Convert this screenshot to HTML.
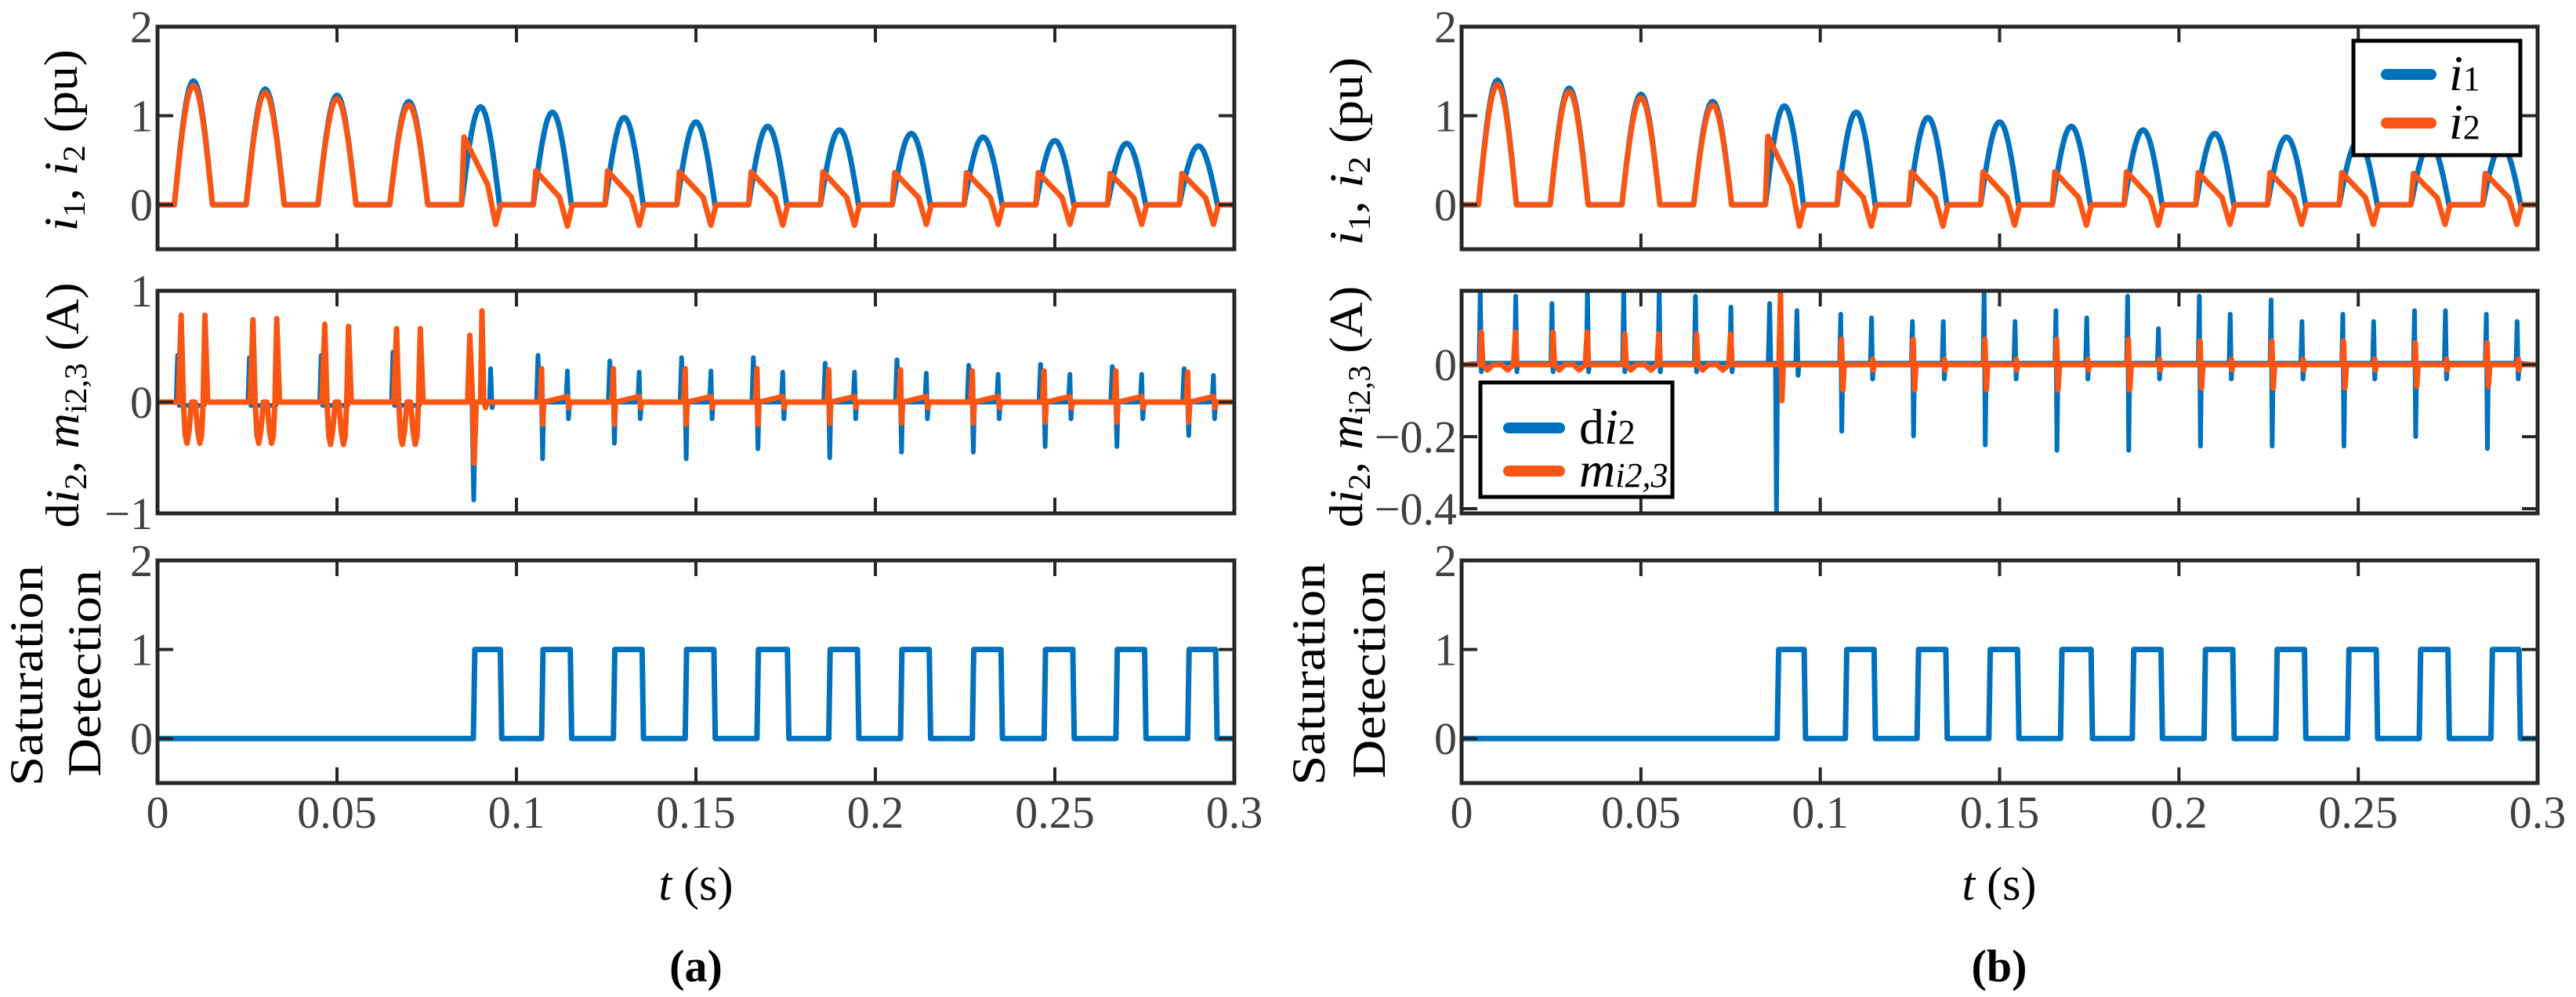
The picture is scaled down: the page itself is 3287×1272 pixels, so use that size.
<!DOCTYPE html>
<html><head><meta charset="utf-8"><style>
html,body{margin:0;padding:0;background:#fff;}
svg{display:block;}
text{font-family:"Liberation Serif",serif;}
</style></head>
<body>
<svg id="fig" width="3287" height="1272" viewBox="0 0 3287 1272" xmlns="http://www.w3.org/2000/svg"></svg>
<script>
// ---------- data ----------
const cycleT0 = [0.01,0.03,0.05,0.07,0.09,0.11,0.13,0.15,0.17,0.19,0.21,0.23,0.25,0.27,0.29];
// (a) top panel
const i1PeakA = [1.39,1.30,1.23,1.16,1.10,1.04,0.98,0.93,0.88,0.84,0.80,0.76,0.72,0.69,0.66];
const i2PeakA = [1.34,1.26,1.19,1.12,0.76,0.38,0.38,0.37,0.37,0.37,0.36,0.36,0.36,0.35,0.35];
const i2MinA  = [0,0,0,0,-0.22,-0.24,-0.23,-0.23,-0.23,-0.23,-0.22,-0.22,-0.22,-0.22,-0.22];
// (b) top panel
const i1PeakB = [1.40,1.31,1.24,1.16,1.11,1.04,0.98,0.93,0.88,0.84,0.80,0.76,0.72,0.69,0.66];
const i2PeakB = [1.35,1.27,1.20,1.12,0.77,0.37,0.37,0.37,0.37,0.37,0.36,0.36,0.36,0.35,0.35];
const i2MinB  = [0,0,0,0,-0.24,-0.24,-0.24,-0.23,-0.23,-0.23,-0.22,-0.22,-0.22,-0.22,-0.22];
// (a) middle panel
const dPosA = [0.42,0.40,0.42,0.45,0.35,0.42,0.37,0.40,0.40,0.35,0.38,0.33,0.34,0.32,0.30];
const dNegA = [-0.03,-0.03,-0.03,-0.03,-0.88,-0.51,-0.37,-0.51,-0.42,-0.50,-0.45,-0.45,-0.40,-0.40,-0.30];
const dEndA = [0.30,0.30,0.30,0.30,0.30,0.28,0.27,0.28,0.27,0.27,0.26,0.25,0.25,0.25,0.24];
const mPosA = [0.78,0.74,0.70,0.66,0.60,0.30,0.30,0.30,0.30,0.29,0.29,0.28,0.28,0.28,0.27];
const mEndA = [0.78,0.75,0.68,0.66,0.82,0.05,0.05,0.05,0.05,0.05,0.05,0.05,0.05,0.05,0.05];
const mNegA = [-0.37,-0.37,-0.38,-0.38,-0.55,-0.20,-0.20,-0.20,-0.20,-0.19,-0.19,-0.19,-0.18,-0.18,-0.18];
// (b) middle panel
const dPosB = [0.21,0.17,0.21,0.19,0.17,0.14,0.12,0.21,0.15,0.19,0.19,0.18,0.14,0.15,0.14];
const dNegB = [-0.02,-0.02,-0.02,-0.02,-0.41,-0.185,-0.198,-0.223,-0.238,-0.238,-0.226,-0.226,-0.226,-0.20,-0.233];
const dEndB = [0.19,0.21,0.21,0.16,0.15,0.13,0.12,0.12,0.13,0.10,0.14,0.12,0.12,0.15,0.12];
const mPosB = [0.09,0.09,0.085,0.085,0.20,0.07,0.07,0.07,0.07,0.07,0.065,0.065,0.065,0.06,0.06];
const mNegB = [-0.015,-0.015,-0.015,-0.015,-0.10,-0.07,-0.07,-0.07,-0.07,-0.07,-0.065,-0.065,-0.065,-0.06,-0.06];
// saturation detection
const satOn  = [0.088,0.107,0.127,0.147,0.167,0.187,0.207,0.227,0.247,0.267,0.287];
const satOff = [0.0955,0.115,0.135,0.155,0.1755,0.195,0.215,0.235,0.255,0.275,0.2948];
const xTicks = [0,0.05,0.1,0.15,0.2,0.25,0.3];
const xTickLabels = ["0","0.05","0.1","0.15","0.2","0.25","0.3"];

// ---------- layout ----------
const NS="http://www.w3.org/2000/svg";
const svg=document.getElementById('fig');
const BLUE="#0072BD", ORANGE="#FA5512";
const cols=[{x0:201,x1:1575},{x0:1865,x1:3238}];
const rows=[{y0:34,y1:318},{y0:371,y1:655},{y0:715,y1:999}];
function el(tag,attrs,parent){const e=document.createElementNS(NS,tag);for(const k in attrs)e.setAttribute(k,attrs[k]);(parent||svg).appendChild(e);return e;}
let clipId=0;
function makeAxes(ci,ri,ymin,ymax,yTicks,yLabels,showX,name){
  const c=cols[ci],r=rows[ri];
  const g=el('g',{});
  
  
  const sx=t=>c.x0+(t-0)/(0.3)*(c.x1-c.x0);
  const sy=v=>r.y1-(v-ymin)/(ymax-ymin)*(r.y1-r.y0);
  const id='clip'+(clipId++);
  const cp=el('clipPath',{id:id},g);
  el('rect',{x:c.x0,y:r.y0,width:c.x1-c.x0,height:r.y1-r.y0},cp);
  const plot=el('g',{'clip-path':'url(#'+id+')'},g);
  
  
  const ax={g,plot,sx,sy,c,r};
  ax.finish=function(){
    const fr=el('rect',{x:c.x0,y:r.y0,width:c.x1-c.x0,height:r.y1-r.y0,fill:'none',stroke:'#262626','stroke-width':5},g);
    
    
    xTicks.forEach((t,i)=>{
      const x=sx(t);
      el('line',{x1:x,x2:x,y1:r.y1,y2:r.y1-20,stroke:'#262626','stroke-width':4},g);
      el('line',{x1:x,x2:x,y1:r.y0,y2:r.y0+20,stroke:'#262626','stroke-width':4},g);
      if(showX){
        const tx=el('text',{x:x,y:1056,'font-size':58,fill:'#404040','text-anchor':'middle'},g);
        tx.textContent=xTickLabels[i];
        
        
      }
    });
    yTicks.forEach((v,i)=>{
      const y=sy(v);
      el('line',{x1:c.x0,x2:c.x0+20,y1:y,y2:y,stroke:'#262626','stroke-width':4},g);
      el('line',{x1:c.x1,x2:c.x1-20,y1:y,y2:y,stroke:'#262626','stroke-width':4},g);
      const ty=el('text',{x:c.x0-6,y:y+20,'font-size':58,fill:'#404040','text-anchor':'end'},g);
      ty.textContent=yLabels[i];
      
      
    });
  };
  return ax;
}
function line(ax,pts,color,w,name){
  const d=pts.map((p,i)=>(i?'L':'M')+ax.sx(p[0]).toFixed(1)+' '+ax.sy(p[1]).toFixed(1)).join('');
  const p=el('path',{d:d,fill:'none',stroke:color,'stroke-width':w,'stroke-linejoin':'round'},ax.plot);
  
  
}
const HW=0.0053;
function sinePulse(pts,t0,A){const s=t0-HW;for(let j=0;j<=24;j++){const t=s+j/24*2*HW;pts.push([t,A*Math.sin(Math.PI*j/24)]);}}
function i1Series(peaks){const pts=[[0,0]];cycleT0.forEach((t0,k)=>sinePulse(pts,t0,peaks[k]));pts.push([0.3,0]);return pts;}
function i2Series(peaks,mins){const pts=[[0,0]];cycleT0.forEach((t0,k)=>{
  if(k<4)sinePulse(pts,t0,peaks[k]);
  else{const s=t0-HW;pts.push([s,0],[s+0.0007,peaks[k]],[t0+0.002,peaks[k]*0.35+mins[k]*0.2],[t0+0.0042,mins[k]],[t0+0.0056,0]);}
});pts.push([0.3,0]);return pts;}
function keySeries(fn){const pts=[[0,0]];cycleT0.forEach((t0,k)=>{fn(k).forEach(p=>pts.push([t0+p[0],p[1]]));});pts.push([0.3,0]);return pts;}
function satSeries(){const pts=[[0,0]];satOn.forEach((a,i)=>{pts.push([a,0],[a+0.0004,1],[satOff[i],1],[satOff[i]+0.0004,0]);});pts.push([0.3,0]);return pts;}
function yLabel(x,yc,len,parts,name){
  const t=el('text',{transform:`translate(${x},${yc}) rotate(-90)`,'text-anchor':'middle','font-size':60,fill:'#000',textLength:len,lengthAdjust:'spacingAndGlyphs'});
  
  
  parts.forEach(p=>{const s=el('tspan',{},t);if(p.i)s.setAttribute('font-style','italic');if(p.sub){s.setAttribute('font-size',40);s.setAttribute('dy',p.dy||0);}else if(p.dy)s.setAttribute('dy',p.dy);s.textContent=p.t;});
}
const lab1=[{t:'i',i:1},{t:'1',sub:1,dy:10},{t:', ',dy:-10},{t:'i',i:1},{t:'2',sub:1,dy:10},{t:' (pu)',dy:-10}];
const lab2=[{t:'d'},{t:'i',i:1},{t:'2',sub:1,dy:10},{t:', ',dy:-10},{t:'m',i:1},{t:'i2,3',sub:1,dy:10},{t:' (A)',dy:-10}];

// ---------- column (a) ----------
const a1=makeAxes(0,0,-0.5,2,[0,1,2],['0','1','2'],false,'panel-a-currents');
line(a1,i1Series(i1PeakA),BLUE,7,'series-i1-a');
line(a1,i2Series(i2PeakA,i2MinA),ORANGE,7,'series-i2-a');
a1.finish();
const a2=makeAxes(0,1,-1,1,[-1,0,1],['\u22121','0','1'],false,'panel-a-detector');
line(a2,keySeries(k=>k<4?[[-0.0048,0],[-0.0044,dPosA[k]],[-0.004,dNegA[k]],[0.0030,dNegA[k]],[0.0034,dEndA[k]],[0.0038,0]]:
  k===4?[[-0.0036,0],[-0.003,dPosA[k]],[-0.0024,0],[-0.0019,dNegA[k]],[-0.0014,0],[0.0025,0],[0.0028,dEndA[k]],[0.0032,-0.05],[0.0036,0]]:
  [[-0.0044,0],[-0.004,dPosA[k]],[-0.0035,0],[-0.003,0],[-0.0027,dNegA[k]],[-0.0024,0],[0.0038,0],[0.0042,dEndA[k]],[0.0045,-0.15],[0.0048,0]]),BLUE,6,'series-di2-a');
line(a2,keySeries(k=>k<4?[[-0.0042,0],[-0.0034,mPosA[k]],[-0.0028,0],[-0.0023,mNegA[k]*0.8],[-0.0018,mNegA[k]],[-0.0012,mNegA[k]*0.7],[-0.0005,0],[0.0005,0],[0.0012,mNegA[k]*0.7],[0.0018,mNegA[k]],[0.0023,mNegA[k]*0.8],[0.0027,0],[0.0032,mEndA[k]],[0.004,0]]:
  k===4?[[-0.0036,0],[-0.003,mPosA[k]],[-0.0022,0],[-0.0018,mNegA[k]],[-0.0012,0],[0,0],[0.0004,mEndA[k]],[0.0009,0],[0.0014,-0.05],[0.0018,0]]:
  [[-0.0034,0],[-0.003,mPosA[k]],[-0.0027,mNegA[k]],[-0.0024,0],[0.0042,mEndA[k]],[0.0046,-mEndA[k]],[0.005,0]]),ORANGE,7,'series-mi23-a');
a2.finish();
const a3=makeAxes(0,2,-0.5,2,[0,1,2],['0','1','2'],true,'panel-a-saturation');
line(a3,satSeries(),BLUE,7,'series-saturation-a');
a3.finish();

// ---------- column (b) ----------
const b1=makeAxes(1,0,-0.5,2,[0,1,2],['0','1','2'],false,'panel-b-currents');
line(b1,i1Series(i1PeakB),BLUE,7,'series-i1-b');
line(b1,i2Series(i2PeakB,i2MinB),ORANGE,7,'series-i2-b');
b1.finish();
const b2=makeAxes(1,1,-0.413,0.205,[-0.4,-0.2,0],['\u22120.4','\u22120.2','0'],false,'panel-b-detector');
line(b2,keySeries(k=>k<4?[[-0.0051,0.004],[-0.0048,dPosB[k]],[-0.0045,dNegB[k]],[-0.0041,0.004],[0.0048,0.004],[0.0051,dEndB[k]],[0.0054,-0.02],[0.0057,0.004]]:
  k===4?[[-0.0045,0.004],[-0.0041,dPosB[k]],[-0.0038,0.004],[-0.0025,0.004],[-0.0022,dNegB[k]],[-0.0019,0.004],[0.0032,0.004],[0.0035,dEndB[k]],[0.0038,-0.03],[0.0041,0.004]]:
  [[-0.0046,0.004],[-0.0043,dPosB[k]],[-0.0040,dNegB[k]],[-0.0037,0.004],[0.0040,0.004],[0.0043,dEndB[k]],[0.0046,-0.04],[0.0049,0.004]]),BLUE,6,'series-di2-b');
line(b2,keySeries(k=>k<4?[[-0.0048,0],[-0.0045,mPosB[k]],[-0.0041,0],[-0.0028,mNegB[k]],[-0.0012,0],[0.0012,0],[0.0028,mNegB[k]],[0.0045,0],[0.0050,mPosB[k]],[0.0054,0]]:
  k===4?[[-0.0015,0],[-0.0011,mPosB[k]],[-0.0007,mNegB[k]],[-0.0003,0]]:
  [[-0.0044,0],[-0.0041,mPosB[k]],[-0.0037,mNegB[k]],[-0.0033,0],[0.0044,0],[0.0046,0.015],[0.0048,-0.015],[0.005,0]]),ORANGE,7,'series-mi23-b');
b2.finish();
const b3=makeAxes(1,2,-0.5,2,[0,1,2],['0','1','2'],true,'panel-b-saturation');
line(b3,satSeries(),BLUE,7,'series-saturation-b');
b3.finish();

// ---------- axis labels ----------
yLabel(98,179,232,lab1,'y-axis-title-a-currents');
yLabel(100,517,313,lab2,'y-axis-title-a-detector');
yLabel(1738,193,240,lab1,'y-axis-title-b-currents');
yLabel(1738,519,308,lab2,'y-axis-title-b-detector');
[[54,862,282,'Saturation','y-axis-title-a-saturation-line1'],[128,859,264,'Detection','y-axis-title-a-saturation-line2'],
 [1690,860,284,'Saturation','y-axis-title-b-saturation-line1'],[1767,860,266,'Detection','y-axis-title-b-saturation-line2']].forEach(a=>{
  const t=el('text',{transform:`translate(${a[0]},${a[1]}) rotate(-90)`,'text-anchor':'middle','font-size':60,textLength:a[2],lengthAdjust:'spacingAndGlyphs'});
  t.textContent=a[3];
  
  
});
[[888,'a'],[2551,'b']].forEach(a=>{
  const t=el('text',{x:a[0],y:1148,'text-anchor':'middle','font-size':60});
  
  
  const s1=el('tspan',{'font-style':'italic'},t);s1.textContent='t';
  const s2=el('tspan',{},t);s2.textContent=' (s)';
  const c=el('text',{x:a[0],y:1252,'text-anchor':'middle','font-size':58,'font-weight':'bold'});
  c.textContent='('+a[1]+')';
  
  
});

// ---------- legends ----------
function legend(x,y,w,h,entries,name){
  const g=el('g',{});
  
  
  el('rect',{x:x,y:y,width:w,height:h,fill:'#fff',stroke:'#000','stroke-width':5},g);
  entries.forEach(e=>{
    const it=el('g',{},g);
    
    
    el('line',{x1:e.lx1,x2:e.lx2,y1:e.y,y2:e.y,stroke:e.color,'stroke-width':14,'stroke-linecap':'round'},it);
    const t=el('text',{x:e.tx,y:e.y+20,'font-size':64},it);
    e.parts.forEach(p=>{const s=el('tspan',{},t);if(p.i)s.setAttribute('font-style','italic');if(p.sub)s.setAttribute('font-size',44);s.textContent=p.t;});
  });
}
legend(3003,52,213,146,[
  {lx1:3045,lx2:3102,y:95,tx:3125,color:BLUE,parts:[{t:'i',i:1},{t:'1',sub:1}]},
  {lx1:3045,lx2:3102,y:157,tx:3125,color:ORANGE,parts:[{t:'i',i:1},{t:'2',sub:1}]}],'legend-currents');
legend(1889,488,245,146,[
  {lx1:1925,lx2:1990,y:546,tx:2015,color:BLUE,parts:[{t:'d'},{t:'i',i:1},{t:'2',sub:1}]},
  {lx1:1925,lx2:1990,y:601,tx:2015,color:ORANGE,parts:[{t:'m',i:1},{t:'i2,3',sub:1,i:1}]}],'legend-detector');
</script>
</body></html>
